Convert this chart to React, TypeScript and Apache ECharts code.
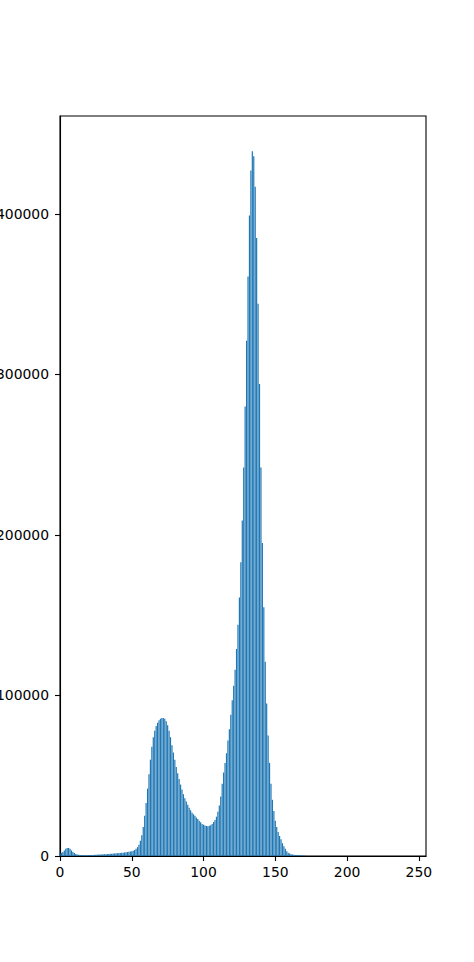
import { useEffect, useRef } from 'react';
import * as echarts from 'echarts';

// pixel intensity bins 0..255
const counts: number[] = [
  1500, 2000, 2500, 3500, 4500, 5000, 5000, 4500, 3500, 2500,
  1800, 1300, 1000, 800, 700, 600, 550, 500, 500, 500,
  550, 600, 650, 700, 750, 800, 850, 900, 950, 1000,
  1050, 1100, 1150, 1200, 1300, 1350, 1400, 1500, 1550, 1650,
  1700, 1800, 1900, 2000, 2100, 2200, 2300, 2450, 2600, 2800,
  3000, 3300, 3800, 4500, 5500, 7000, 9500, 13000, 18000, 25000,
  33000, 42000, 51000, 60000, 68000, 74000, 78000, 81000, 83000, 84500,
  85500, 86000, 86000, 85500, 84000, 81500, 78000, 74000, 69000, 64500,
  60000, 55500, 51500, 48000, 44500, 41500, 38500, 36000, 34000, 32000,
  30000, 28500, 27000, 26000, 25000, 24000, 23000, 22000, 21000, 20000,
  19500, 19000, 18700, 18600, 18800, 19200, 20000, 21200, 22500, 24500,
  27500, 31500, 37000, 45000, 52000, 58000, 64000, 72000, 79000, 88000,
  97000, 106000, 116000, 129000, 144000, 161000, 183000, 209000, 242000, 280000,
  321000, 361000, 399000, 427000, 439000, 436000, 417000, 385000, 344000, 294000,
  242000, 195000, 155000, 121000, 95000, 75000, 58000, 45000, 35000, 28000,
  22000, 18000, 15000, 12500, 10500, 8000, 6000, 4500, 3000, 2000,
  1500, 1100, 900, 800, 700, 600, 600, 500, 500, 400,
  400, 0, 0, 0, 0, 0, 0, 0, 0, 0,
  0, 0, 0, 0, 0, 0, 0, 0, 0, 0,
  0, 0, 0, 0, 0, 0, 0, 0, 0, 0,
  0, 0, 0, 0, 0, 0, 0, 0, 0, 0,
  0, 0, 0, 0, 0, 0, 0, 0, 0, 0,
  0, 0, 0, 0, 0, 0, 0, 0, 0, 0,
  0, 0, 0, 0, 0, 0, 0, 0, 0, 0,
  0, 0, 0, 0, 0, 0, 0, 0, 0, 0,
  0, 0, 0, 0, 0, 0,
];

const xTicks = [0, 50, 100, 150, 200, 250];
const yTicks = [0, 100000, 200000, 300000, 400000];

const font = 'DejaVu Sans';

export default function App() {
  const chartRef = useRef<HTMLDivElement>(null);

  useEffect(() => {
    if (!chartRef.current) return;
    document.body.style.margin = '0';
    const chart = echarts.init(chartRef.current, undefined, { renderer: 'svg' });

    const axisLabel = {
      color: '#000',
      fontFamily: font,
      fontSize: 13.9,
      formatter: (v: number) => String(v),
    };

    chart.setOption({
      animation: false,
      backgroundColor: '#fff',
      grid: {
        left: 60,
        top: 116,
        right: 48,
        bottom: 106,
        outerBoundsMode: 'none',
        containLabel: false,
        show: true,
        borderColor: '#000',
        borderWidth: 1.1,
        backgroundColor: 'transparent',
      },
      xAxis: {
        type: 'value',
        min: 0,
        max: 255,
        interval: 50,
        splitLine: { show: false },
        axisLine: { show: true, onZero: false, lineStyle: { color: '#000', width: 1.1 } },
        axisTick: { show: true, length: 5, customValues: xTicks, lineStyle: { color: '#000', width: 1.1 } },
        axisLabel: { ...axisLabel, margin: 9, customValues: xTicks },
      },
      yAxis: {
        type: 'value',
        min: 0,
        max: 461000,
        interval: 100000,
        splitLine: { show: false },
        axisLine: { show: true, lineStyle: { color: '#000', width: 1.1 } },
        axisTick: { show: true, length: 5, customValues: yTicks, lineStyle: { color: '#000', width: 1.1 } },
        axisLabel: { ...axisLabel, margin: 11, customValues: yTicks },
      },
      series: [
        {
          type: 'bar',
          barWidth: 1.2,
          itemStyle: { color: '#1f77b4' },
          data: counts.map((v, i) => [i, v]),
        },
      ],
    });

    return () => {
      chart.dispose();
    };
  }, []);

  return <div ref={chartRef} style={{ width: 474, height: 962 }} />;
}
